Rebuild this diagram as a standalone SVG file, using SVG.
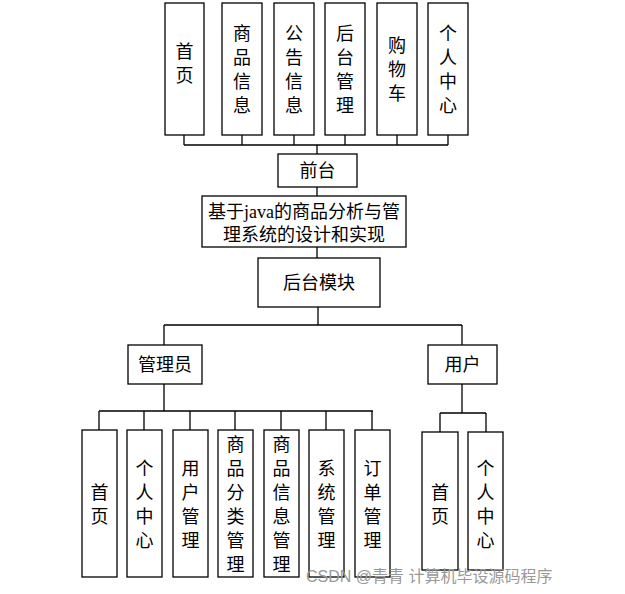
<svg xmlns="http://www.w3.org/2000/svg" width="625" height="594" viewBox="0 0 625 594">
<style>
rect{fill:#fff;stroke:#000;stroke-width:1.3}
line,path{stroke:#000;stroke-width:1.3;fill:none}
text{font-family:"Liberation Serif","Noto Sans CJK SC",serif;font-size:18px;fill:#000;text-anchor:middle}
.w{font-family:"Liberation Sans","Noto Sans CJK SC",sans-serif;font-size:16px;fill:#999;text-anchor:start}
</style>
<rect x="0" y="0" width="625" height="594" style="stroke:none"/>
<g id="connectors">
<path d="M184 135V145M242 135V145M294 135V145M345 135V145M397 135V145M448 135V145M184 145H448M317 145V154M317 187V196M317 247V258M318 307V325M164 325H462M164 325V345M462 325V345"/>
<path d="M164 384V411M99 411H373M99 411V430M144 411V430M190 411V430M235 411V430M281 411V430M326 411V430M372 411V430"/>
<path d="M462 384V413M440 413H486M440 413V432M486 413V432"/>
</g>
<g id="top">
<rect x="165" y="3" width="39" height="132"/><text x="184.5" y="58">首</text><text x="184.5" y="82">页</text>
<rect x="222" y="3" width="40" height="132"/><text x="242" y="40">商</text><text x="242" y="64">品</text><text x="242" y="88">信</text><text x="242" y="112">息</text>
<rect x="274" y="3" width="40" height="132"/><text x="294" y="40">公</text><text x="294" y="64">告</text><text x="294" y="88">信</text><text x="294" y="112">息</text>
<rect x="325" y="3" width="40" height="132"/><text x="345" y="40">后</text><text x="345" y="64">台</text><text x="345" y="88">管</text><text x="345" y="112">理</text>
<rect x="377" y="3" width="40" height="132"/><text x="397" y="52">购</text><text x="397" y="76">物</text><text x="397" y="100">车</text>
<rect x="428" y="3" width="40" height="132"/><text x="448" y="40">个</text><text x="448" y="64">人</text><text x="448" y="88">中</text><text x="448" y="112">心</text>
</g>
<g id="qiantai"><rect x="278" y="154" width="79" height="33"/><text x="317.5" y="177">前台</text></g>
<g id="main"><rect x="202" y="196" width="204" height="51"/><text x="304" y="218">基于java的商品分析与管</text><text x="304" y="241">理系统的设计和实现</text></g>
<g id="houtai"><rect x="258" y="258" width="122" height="49"/><text x="319" y="289">后台模块</text></g>
<g id="admin"><rect x="128" y="345" width="74" height="39"/><text x="165" y="371">管理员</text></g>
<g id="user"><rect x="428" y="345" width="69" height="39"/><text x="462.5" y="371">用户</text></g>
<g id="admin-children">
<rect x="82" y="430" width="35" height="147"/><text x="99.5" y="499">首</text><text x="99.5" y="523">页</text>
<rect x="127" y="430" width="35" height="147"/><text x="144.5" y="475">个</text><text x="144.5" y="499">人</text><text x="144.5" y="523">中</text><text x="144.5" y="547">心</text>
<rect x="173" y="430" width="35" height="147"/><text x="190.5" y="475">用</text><text x="190.5" y="499">户</text><text x="190.5" y="523">管</text><text x="190.5" y="547">理</text>
<rect x="218" y="430" width="35" height="147"/><text x="235.5" y="451">商</text><text x="235.5" y="475">品</text><text x="235.5" y="499">分</text><text x="235.5" y="523">类</text><text x="235.5" y="547">管</text><text x="235.5" y="571">理</text>
<rect x="264" y="430" width="35" height="147"/><text x="281.5" y="451">商</text><text x="281.5" y="475">品</text><text x="281.5" y="499">信</text><text x="281.5" y="523">息</text><text x="281.5" y="547">管</text><text x="281.5" y="571">理</text>
<rect x="309" y="430" width="35" height="147"/><text x="326.5" y="475">系</text><text x="326.5" y="499">统</text><text x="326.5" y="523">管</text><text x="326.5" y="547">理</text>
<rect x="355" y="430" width="35" height="147"/><text x="372.5" y="475">订</text><text x="372.5" y="499">单</text><text x="372.5" y="523">管</text><text x="372.5" y="547">理</text>
</g>
<g id="user-children">
<rect x="422" y="432" width="36" height="138"/><text x="440" y="499">首</text><text x="440" y="523">页</text>
<rect x="468" y="432" width="35" height="138"/><text x="485.5" y="475">个</text><text x="485.5" y="499">人</text><text x="485.5" y="523">中</text><text x="485.5" y="547">心</text>
</g>
<text class="w" x="306" y="582">CSDN @青青 计算机毕设源码程序</text>
</svg>
